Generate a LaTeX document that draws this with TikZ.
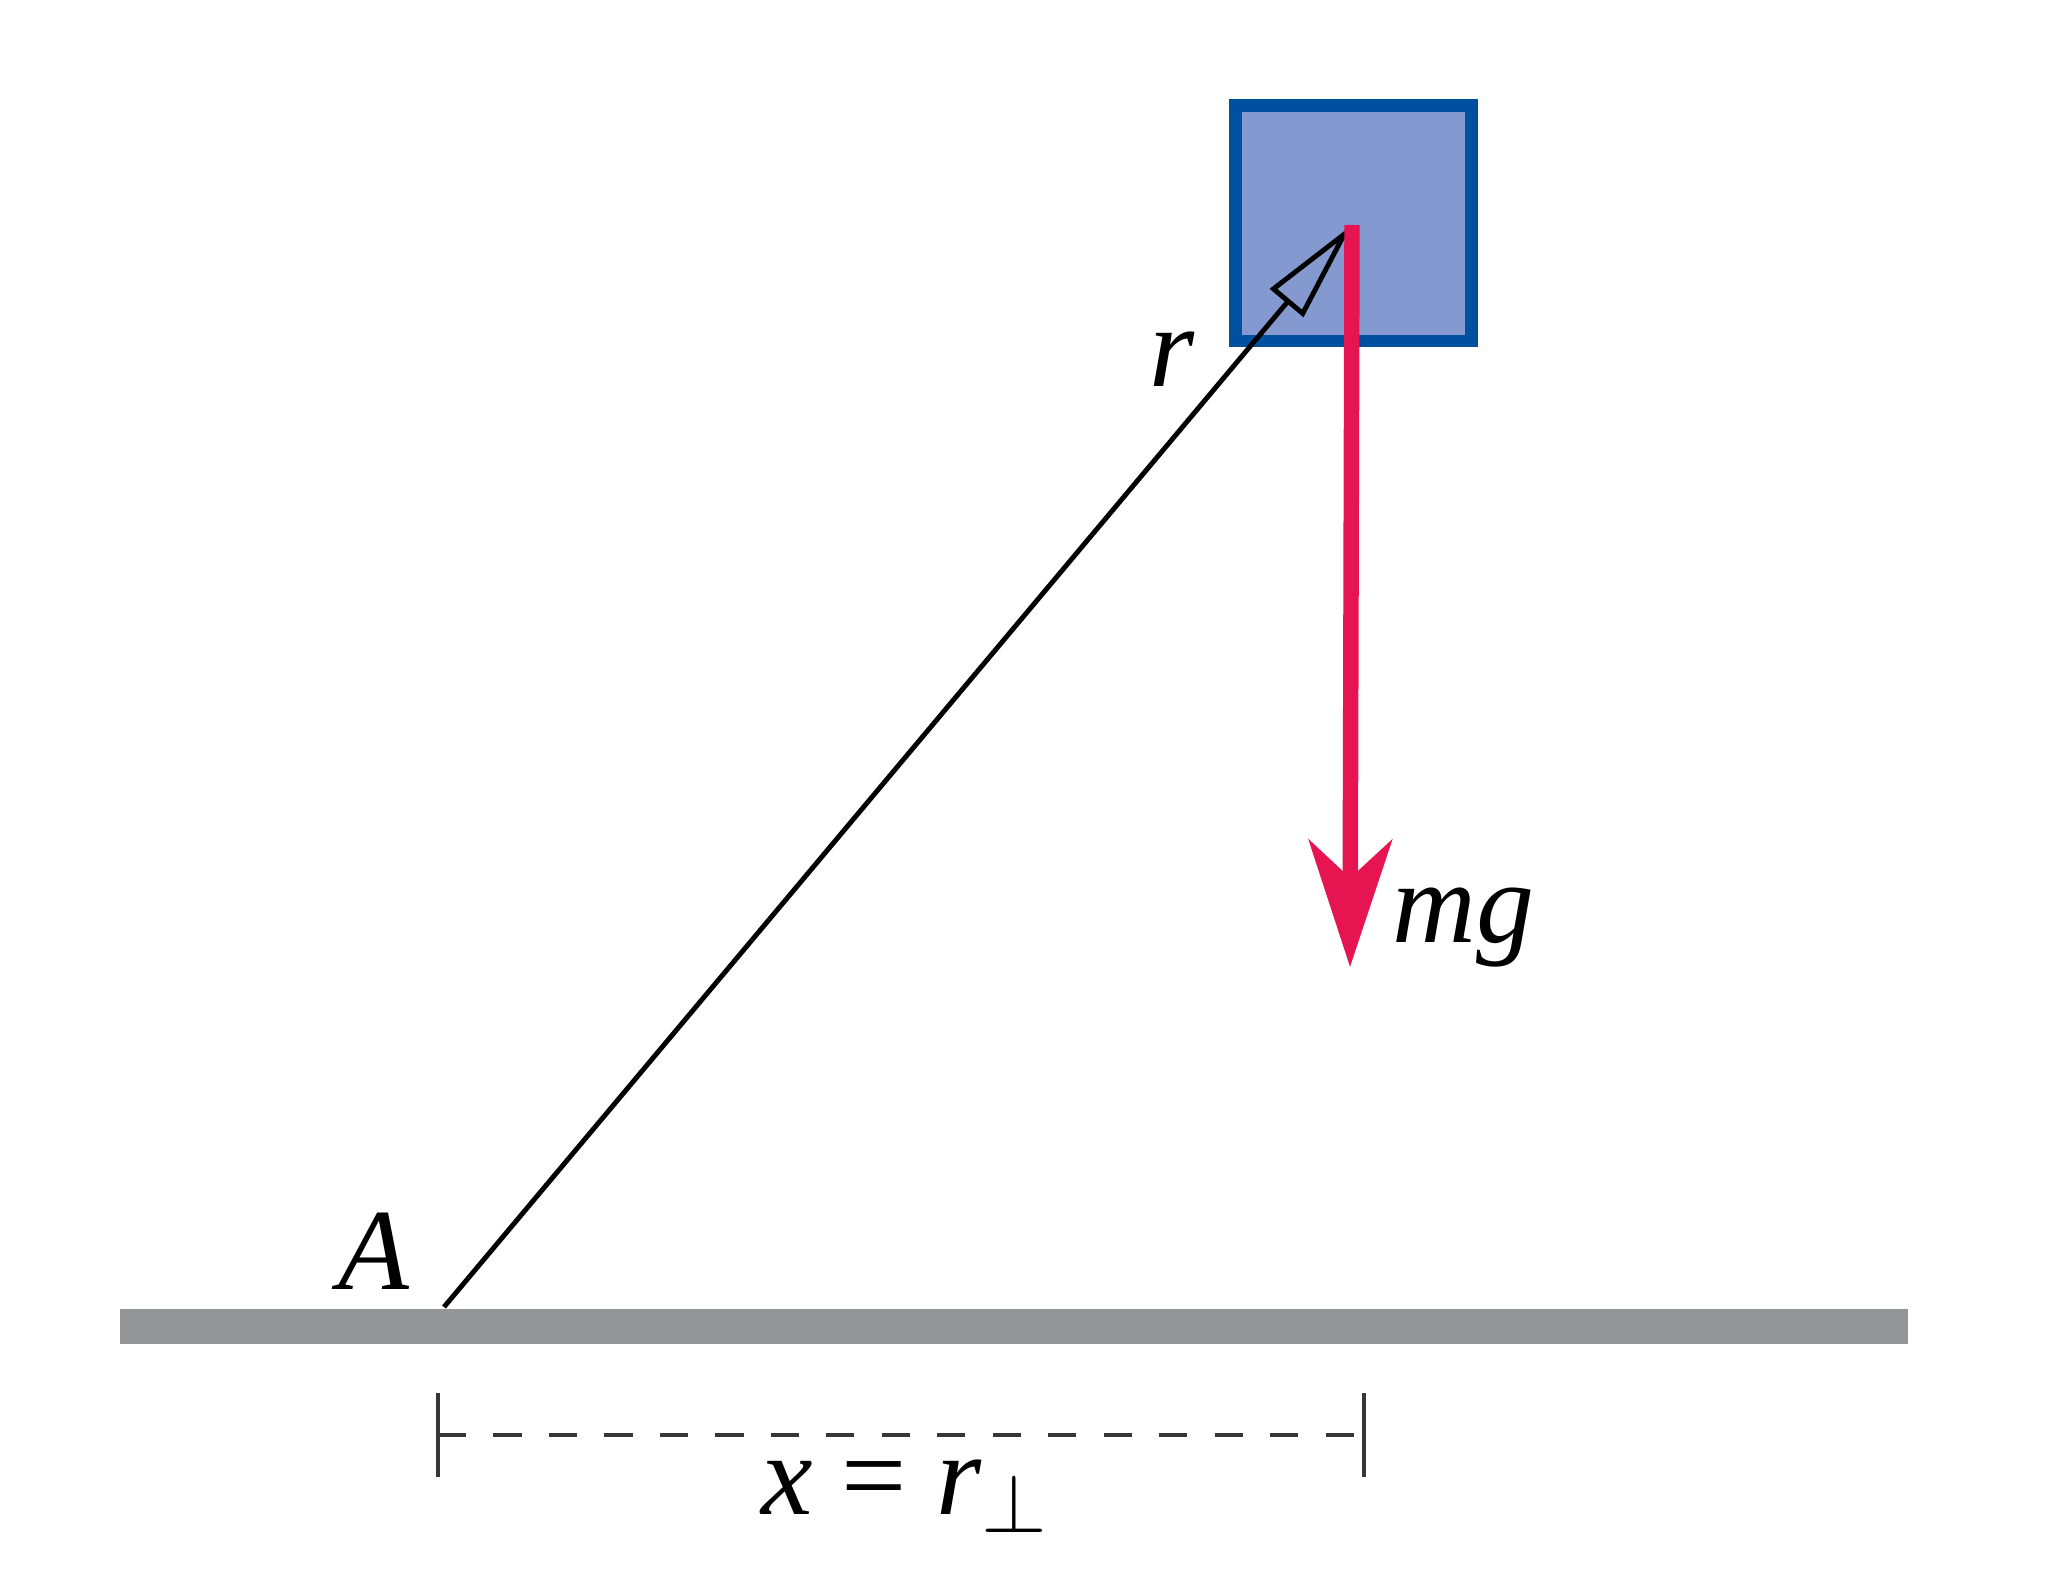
\documentclass[tikz,border=0pt]{standalone}
\usepackage{fontspec}
\setmainfont{Liberation Serif}
\usetikzlibrary{arrows.meta}
\definecolor{blockfill}{RGB}{132,153,207}
\definecolor{blockedge}{RGB}{0,80,160}
\definecolor{forcered}{RGB}{230,20,80}
\definecolor{floorgray}{RGB}{147,149,152}
\definecolor{dimgray}{RGB}{55,55,55}

\begin{document}
\begin{tikzpicture}[x=0.005cm,y=-0.005cm,
		lbl/.style={font=\fontsize{16.5}{20}\selectfont},
		dim/.style={dimgray,line width=0.7pt}]
		\useasboundingbox (0,0) rectangle (2046,1584);
		\fill[floorgray] (120,1309) rectangle (1908,1344);
		\draw[blockedge,fill=blockfill,line width=1.85pt] (1235,106) rectangle (1471,341);
		\coordinate (A) at (444,1307);
		\coordinate (cm) at (1352,225);
		\coordinate (W) at (1350,967);
		\draw[line width=0.7pt,-{Triangle[open,length=0.51cm,width=0.215cm]}] (A) -- (cm);
		\draw[forcered,line width=2.2pt,-{Stealth[length=0.635cm,width=0.415cm,inset=0.19cm]}] (cm) -- (W);
		\coordinate (d1) at (438,1435);
		\coordinate (d2) at (1364,1435);
		\draw[dim,dash pattern=on 4pt off 3.9pt] (d1) -- (d2);
		\draw[dim] ([yshift=-0.21cm]d1) -- ([yshift=0.21cm]d1);
		\draw[dim] ([yshift=-0.21cm]d2) -- ([yshift=0.21cm]d2);
		\node[lbl,anchor=base] (lA) at (374,1289) {\textit{A}};
		\node[lbl,anchor=base] (lr) at (1172,386) {\textit{r}};
		\node[lbl,anchor=base west] (lmg) at (1368,942) {\textit{mg}};
		\node[lbl,anchor=base] (lx) at (906,1514) {\textit{x} = \textit{r}$_{\perp}$};
\end{tikzpicture}
\end{document}
